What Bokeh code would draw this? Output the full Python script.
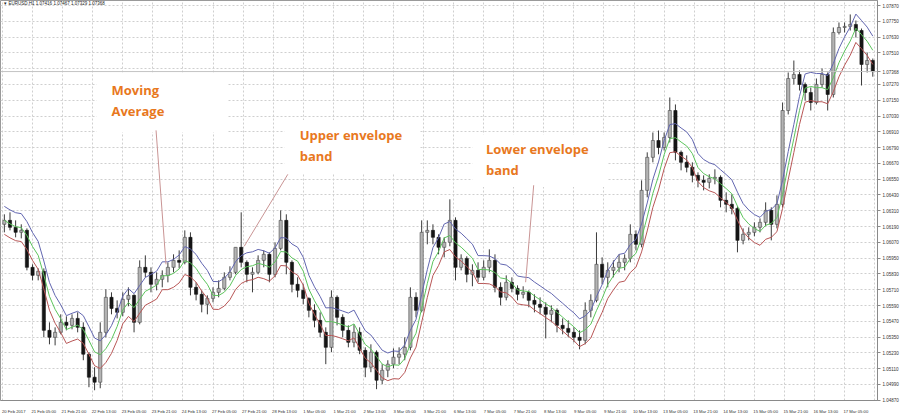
from bokeh.plotting import figure
from bokeh.models import FixedTicker, Label, Span, ColumnDataSource, PrintfTickFormatter
from bokeh.embed import file_html
from bokeh.resources import INLINE
from bokeh.core.properties import value
import pandas as pd

# 3-hour candles (20 Feb 2017 13:00 .. 17 Mar 2017 23:00)
opens = [1.06207, 1.06237, 1.06184, 1.06146, 1.06161, 1.05880, 1.05819, 1.05850, 1.05401, 1.05348,
         1.05386, 1.05462, 1.05439, 1.05492, 1.05424, 1.05220, 1.05045, 1.05007, 1.05386, 1.05652,
         1.05568, 1.05538, 1.05637, 1.05667, 1.05462, 1.05880, 1.05842, 1.05751, 1.05789, 1.05819,
         1.05880, 1.05933, 1.05918, 1.06108, 1.05728, 1.05675, 1.05599, 1.05644, 1.05690, 1.05720,
         1.05804, 1.05842, 1.06032, 1.05918, 1.05827, 1.05842, 1.05933, 1.05979, 1.05827, 1.06024,
         1.06237, 1.05918, 1.05751, 1.05705, 1.05644, 1.05553, 1.05477, 1.05386, 1.05272, 1.05652,
         1.05500, 1.05401, 1.05310, 1.05386, 1.05249, 1.05121, 1.05235, 1.05022, 1.05098, 1.05144,
         1.05197, 1.05220, 1.05272, 1.05652, 1.05553, 1.06146, 1.06161, 1.06108, 1.06032, 1.06070,
         1.06237, 1.05880, 1.05948, 1.05827, 1.05857, 1.05804, 1.05880, 1.05933, 1.05728, 1.05652,
         1.05766, 1.05720, 1.05675, 1.05690, 1.05629, 1.05599, 1.05576, 1.05523, 1.05553, 1.05439,
         1.05416, 1.05386, 1.05348, 1.05325, 1.05553, 1.05629, 1.05903, 1.05804, 1.05857, 1.05880,
         1.05918, 1.05948, 1.06131, 1.06055, 1.06465, 1.06716, 1.06844, 1.06791, 1.06867, 1.07072,
         1.06754, 1.06678, 1.06640, 1.06579, 1.06541, 1.06526, 1.06556, 1.06564, 1.06389, 1.06359,
         1.06328, 1.06085, 1.06131, 1.06146, 1.06184, 1.06222, 1.06313, 1.06207, 1.06359, 1.07072,
         1.07315, 1.07346, 1.07270, 1.07209, 1.07133, 1.07270, 1.07346, 1.07194, 1.07665, 1.07703,
         1.07711, 1.07726, 1.07680, 1.07422, 1.07452]

highs = [1.06283, 1.06298, 1.06237, 1.06207, 1.06176, 1.05903, 1.05872, 1.05872, 1.05462, 1.05424,
         1.05523, 1.05508, 1.05523, 1.05538, 1.05462, 1.05235, 1.05121, 1.05462, 1.05713, 1.05690,
         1.05629, 1.05690, 1.05728, 1.05675, 1.05933, 1.05971, 1.05880, 1.05842, 1.05857, 1.05918,
         1.05979, 1.06009, 1.06161, 1.06146, 1.05766, 1.05705, 1.05667, 1.05728, 1.05781, 1.05842,
         1.05888, 1.06032, 1.06298, 1.05933, 1.05880, 1.05971, 1.06009, 1.05994, 1.06070, 1.06313,
         1.06283, 1.05933, 1.05804, 1.05751, 1.05652, 1.05599, 1.05538, 1.05424, 1.05705, 1.05667,
         1.05523, 1.05439, 1.05447, 1.05424, 1.05272, 1.05295, 1.05249, 1.05144, 1.05174, 1.05264,
         1.05272, 1.05348, 1.05728, 1.05690, 1.06237, 1.06237, 1.06207, 1.06131, 1.06108, 1.06397,
         1.06260, 1.05979, 1.05964, 1.05903, 1.05918, 1.05933, 1.06017, 1.05979, 1.05766, 1.05819,
         1.05804, 1.05743, 1.05736, 1.05705, 1.05675, 1.05652, 1.05614, 1.05591, 1.05568, 1.05492,
         1.05477, 1.05424, 1.05401, 1.05614, 1.05675, 1.06146, 1.05956, 1.05918, 1.05933, 1.05979,
         1.05979, 1.06207, 1.06161, 1.06541, 1.06754, 1.06905, 1.06920, 1.06905, 1.07171, 1.07118,
         1.06768, 1.06731, 1.06678, 1.06602, 1.06579, 1.06587, 1.06625, 1.06579, 1.06450, 1.06435,
         1.06344, 1.06176, 1.06184, 1.06222, 1.06252, 1.06374, 1.06336, 1.06427, 1.07133, 1.07361,
         1.07452, 1.07376, 1.07285, 1.07247, 1.07315, 1.07391, 1.07361, 1.07703, 1.07741, 1.07741,
         1.07802, 1.07756, 1.07695, 1.07513, 1.07467]

lows = [1.06146, 1.06161, 1.06108, 1.06100, 1.05857, 1.05781, 1.05781, 1.05348, 1.05295, 1.05287,
        1.05371, 1.05401, 1.05409, 1.05386, 1.05174, 1.04969, 1.04946, 1.04961, 1.05348, 1.05523,
        1.05492, 1.05508, 1.05584, 1.05386, 1.05447, 1.05804, 1.05690, 1.05705, 1.05728, 1.05766,
        1.05842, 1.05872, 1.05903, 1.05667, 1.05629, 1.05538, 1.05523, 1.05614, 1.05652, 1.05705,
        1.05781, 1.05827, 1.05880, 1.05766, 1.05690, 1.05827, 1.05880, 1.05766, 1.05804, 1.06009,
        1.05827, 1.05690, 1.05652, 1.05599, 1.05500, 1.05424, 1.05348, 1.05144, 1.05235, 1.05439,
        1.05348, 1.05272, 1.05272, 1.05220, 1.05045, 1.05083, 1.04954, 1.04992, 1.05045, 1.05113,
        1.05144, 1.05174, 1.05249, 1.05500, 1.05538, 1.06055, 1.06055, 1.05979, 1.05956, 1.06040,
        1.05781, 1.05857, 1.05766, 1.05736, 1.05766, 1.05781, 1.05842, 1.05690, 1.05591, 1.05629,
        1.05690, 1.05629, 1.05644, 1.05576, 1.05538, 1.05523, 1.05340, 1.05462, 1.05386, 1.05371,
        1.05348, 1.05310, 1.05257, 1.05295, 1.05500, 1.05614, 1.05751, 1.05728, 1.05804, 1.05842,
        1.05857, 1.05918, 1.06009, 1.06032, 1.06412, 1.06678, 1.06739, 1.06768, 1.06829, 1.06693,
        1.06617, 1.06602, 1.06526, 1.06488, 1.06465, 1.06480, 1.06511, 1.06336, 1.06298, 1.06283,
        1.05994, 1.06055, 1.06085, 1.06116, 1.06146, 1.06192, 1.06085, 1.06176, 1.06336, 1.07042,
        1.07270, 1.07224, 1.07148, 1.07072, 1.07118, 1.07247, 1.07072, 1.07171, 1.07650, 1.07665,
        1.07680, 1.07627, 1.07262, 1.07361, 1.07329]

closes = [1.06237, 1.06184, 1.06146, 1.06161, 1.05880, 1.05819, 1.05850, 1.05401, 1.05348, 1.05386,
          1.05462, 1.05439, 1.05492, 1.05424, 1.05220, 1.05045, 1.05007, 1.05386, 1.05652, 1.05568,
          1.05538, 1.05637, 1.05667, 1.05462, 1.05880, 1.05842, 1.05751, 1.05789, 1.05819, 1.05880,
          1.05933, 1.05918, 1.06108, 1.05728, 1.05675, 1.05599, 1.05644, 1.05690, 1.05720, 1.05804,
          1.05842, 1.06032, 1.05918, 1.05827, 1.05842, 1.05933, 1.05979, 1.05827, 1.06024, 1.06237,
          1.05918, 1.05751, 1.05705, 1.05644, 1.05553, 1.05477, 1.05386, 1.05272, 1.05652, 1.05500,
          1.05401, 1.05310, 1.05386, 1.05249, 1.05121, 1.05235, 1.05022, 1.05098, 1.05144, 1.05197,
          1.05220, 1.05272, 1.05652, 1.05553, 1.06146, 1.06161, 1.06108, 1.06032, 1.06070, 1.06237,
          1.05880, 1.05948, 1.05827, 1.05857, 1.05804, 1.05880, 1.05933, 1.05728, 1.05652, 1.05766,
          1.05720, 1.05675, 1.05690, 1.05629, 1.05599, 1.05576, 1.05523, 1.05553, 1.05439, 1.05416,
          1.05386, 1.05348, 1.05325, 1.05553, 1.05629, 1.05903, 1.05804, 1.05857, 1.05880, 1.05918,
          1.05948, 1.06131, 1.06055, 1.06465, 1.06716, 1.06844, 1.06791, 1.06867, 1.07072, 1.06754,
          1.06678, 1.06640, 1.06579, 1.06541, 1.06526, 1.06556, 1.06564, 1.06389, 1.06359, 1.06328,
          1.06085, 1.06131, 1.06146, 1.06184, 1.06222, 1.06313, 1.06207, 1.06359, 1.07072, 1.07315,
          1.07346, 1.07270, 1.07209, 1.07133, 1.07270, 1.07346, 1.07194, 1.07665, 1.07703, 1.07711,
          1.07726, 1.07680, 1.07422, 1.07452, 1.07368]

time_labels = ["20 Feb 2017", "21 Feb 05:00", "21 Feb 21:00", "22 Feb 13:00", "23 Feb 05:00",
               "23 Feb 21:00", "24 Feb 13:00", "27 Feb 05:00", "27 Feb 21:00", "28 Feb 13:00",
               "1 Mar 05:00", "1 Mar 21:00", "2 Mar 13:00", "3 Mar 05:00", "3 Mar 21:00",
               "6 Mar 13:00", "7 Mar 05:00", "7 Mar 21:00", "8 Mar 13:00", "9 Mar 05:00",
               "9 Mar 21:00", "10 Mar 13:00", "13 Mar 05:00", "13 Mar 21:00", "14 Mar 13:00",
               "15 Mar 05:00", "15 Mar 21:00", "16 Mar 13:00", "17 Mar 05:00", "17 Mar 21:00"]

price_ticks = [1.04870, 1.04990, 1.05110, 1.05230, 1.05350, 1.05470, 1.05590, 1.05710, 1.05830,
               1.05950, 1.06070, 1.06190, 1.06310, 1.06430, 1.06550, 1.06670, 1.06790, 1.06910,
               1.07030, 1.07150, 1.07270, 1.07390, 1.07510, 1.07630, 1.07750, 1.07870]

title_text = "\u25be EURUSD,H1  1.07416 1.07467 1.07329 1.07368"
last_price = 1.07368
ma_period = 5          # 5 x 3h candles ~ 14 H1 bars
env_dev = 0.001        # envelope deviation 0.1 %

bars_per_candle = 3
bars_per_label = 16

n = len(closes)
xs = [bars_per_candle * k + 1 for k in range(n)]
df = pd.DataFrame(dict(x=xs, open=opens, high=highs, low=lows, close=closes))
df["ma"] = df["close"].rolling(ma_period, min_periods=1).mean()
df["upper"] = df["ma"] * (1 + env_dev)
df["lower"] = df["ma"] * (1 - env_dev)
df["top"] = df[["open", "close"]].max(axis=1)
df["bottom"] = df[["open", "close"]].min(axis=1)

bull = ColumnDataSource(df[df["close"] >= df["open"]])
bear = ColumnDataSource(df[df["close"] < df["open"]])
src = ColumnDataSource(df)

FW, FH = 877, 400
Y0, Y1 = 1.04868, 1.07908
p = figure(frame_width=FW, frame_height=FH, x_range=(-1.05, 465.5), y_range=(Y0, Y1),
           y_axis_location="right", output_backend="svg", toolbar_location=None,
           min_border_left=0, min_border_top=0, min_border_right=27, min_border_bottom=12,
           background_fill_color="white", border_fill_color="white")
p.outline_line_color = "#9a9a9a"

# grid
label_ticks = [bars_per_label * j for j in range(len(time_labels))]
p.xgrid.ticker = FixedTicker(ticks=label_ticks)
p.ygrid.ticker = FixedTicker(ticks=price_ticks)
for g in (p.xgrid, p.ygrid):
    g.grid_line_color = "#cfcfcf"
    g.grid_line_dash = "2 2"
    g.grid_line_width = 1

# x axis (labels start at the grid line, like MetaTrader)
shifted = [t + 6 for t in label_ticks]
p.xaxis.ticker = FixedTicker(ticks=shifted)
p.xaxis.major_label_overrides = {t: lab for t, lab in zip(shifted, time_labels)}
p.xaxis.major_tick_line_color = None
p.xaxis.minor_tick_line_color = None
p.xaxis.major_label_standoff = 2
p.xaxis.axis_line_color = "#8a8a8a"
p.xaxis.major_label_text_font_size = "4.2px"

# y axis on the right; the current price replaces the 1.07390 label
axis_ticks = [t for t in price_ticks if abs(t - 1.0739) > 1e-9] + [last_price]
p.yaxis.ticker = FixedTicker(ticks=axis_ticks)
p.yaxis.formatter = PrintfTickFormatter(format="%.5f")
p.yaxis.minor_tick_line_color = None
p.yaxis.major_tick_out = 3
p.yaxis.major_tick_in = 0
p.yaxis.major_label_standoff = 2
p.yaxis.axis_line_color = "#8a8a8a"
p.yaxis.major_tick_line_color = "#8a8a8a"
p.yaxis.major_label_text_font_size = "4.5px"
for ax in (p.xaxis, p.yaxis):
    ax.major_label_text_color = "#333333"
    ax.major_label_text_font = "Liberation Sans"

# current price line
p.add_layout(Span(location=last_price, dimension="width", line_color="#c4c4c4", line_width=1))

# candles
p.segment(x0="x", y0="low", x1="x", y1="high", source=src, line_color="#3a3a3a", line_width=1)
p.vbar(x="x", width=1.7, top="top", bottom="bottom", source=bull,
       fill_color="#b4b4b4", line_color="#4a4a4a", line_width=0.6)
p.vbar(x="x", width=1.7, top="top", bottom="bottom", source=bear,
       fill_color="#151515", line_color="#151515", line_width=0.6)

# moving average + envelopes
p.line("x", "upper", source=src, line_color="#6266b0", line_width=1)
p.line("x", "ma", source=src, line_color="#5cc45c", line_width=1)
p.line("x", "lower", source=src, line_color="#b85656", line_width=1)

# annotation boxes (white), pointers and texts
box_left = [50, 150, 250]
box_right = [120, 222, 322]
box_top = [1.07361, 1.07000, 1.06890]
box_bottom = [1.06906, 1.06590, 1.06490]
p.quad(left=box_left, right=box_right, top=box_top, bottom=box_bottom,
       fill_color="white", line_color=None)

ptr_x0 = [81.7, 151.8, 282.6]
ptr_y0 = [1.06921, 1.06587, 1.06504]
ptr_x1 = [87.0, 128.6, 278.3]
ptr_y1 = [1.05903, 1.06040, 1.05767]
p.segment(x0=ptr_x0, y0=ptr_y0, x1=ptr_x1, y1=ptr_y1, line_color="#c99494", line_width=1)

ann_text = ["Moving", "Average", "Upper envelope", "band", "Lower envelope", "band"]
ann_x = [58.0, 58.0, 158.1, 158.1, 257.2, 257.2]
ann_y = [1.07225, 1.07065, 1.06883, 1.06724, 1.06777, 1.06617]
p.text(x=ann_x, y=ann_y, text=ann_text, text_color="#e8781e", text_font=value("Open Sans"),
       text_font_style="bold", text_font_size="13px", text_baseline="middle", text_align="left")

p.add_layout(Label(x=1.0, y=1.07885, text=title_text, text_font_size="4.5px", text_color="#222222",
                   text_baseline="middle", text_font="Liberation Sans"))

open("out.html", "w").write(file_html(p, INLINE))
